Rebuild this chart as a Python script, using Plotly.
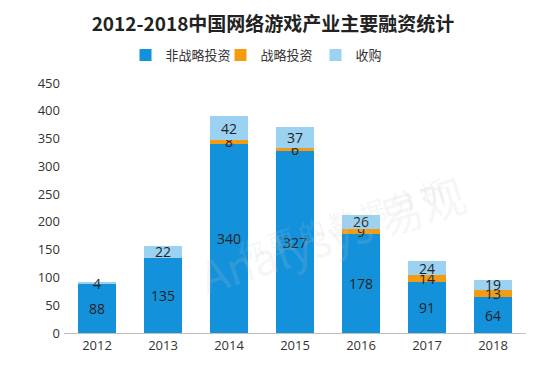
import plotly.graph_objects as go

years = ["2012", "2013", "2014", "2015", "2016", "2017", "2018"]
non_strategic = [88, 135, 340, 327, 178, 91, 64]
strategic = [0, 0, 8, 6, 9, 14, 13]
acquisition = [4, 22, 42, 37, 26, 24, 19]

names = ["非战略投资", "战略投资", "收购"]
colors = ["#1392DB", "#F59B12", "#9BD2F2"]

font_family = "Open Sans, Noto Sans CJK SC, sans-serif"
cjk = "Noto Sans CJK SC, sans-serif"

# page has an 8px body margin; figure sized so it fits the 536x366 window
W, H = 520, 350

fig = go.Figure()
for name, vals, col in zip(names, [non_strategic, strategic, acquisition], colors):
    fig.add_trace(go.Bar(
        x=years, y=vals, name=name,
        marker=dict(color=col, line=dict(width=0)),
        text=[str(v) if v else "" for v in vals],
        textposition="inside",
        insidetextanchor="middle",
        constraintext="none",
        textangle=0,
        textfont=dict(size=14, color="#222222", family=font_family),
    ))

fig.update_layout(
    barmode="stack",
    bargap=0.42,
    width=W, height=H,
    margin=dict(l=56, r=2, t=75, b=25, autoexpand=False),
    paper_bgcolor="white", plot_bgcolor="white",
    uniformtext=dict(minsize=14, mode="show"),
    title=dict(text="<b>2012-2018中国网络游戏产业主要融资统计</b>",
               xref="container", x=265 / W, xanchor="center",
               yref="container", y=1 - 16 / H, yanchor="middle",
               font=dict(size=19, color="#222222", family=cjk)),
    legend=dict(orientation="h", xref="container", x=260 / W, xanchor="center",
                yref="container", y=1 - 47 / H, yanchor="middle",
                font=dict(size=13, color="#333333", family=cjk),
                itemwidth=30, traceorder="normal", entrywidth=50,
                tracegroupgap=0),
    xaxis=dict(showline=True, linecolor="#BFBFBF", linewidth=1, ticks="",
               tickfont=dict(size=13, color="#333333", family=font_family)),
    yaxis=dict(range=[0, 450], dtick=50, showgrid=False, zeroline=False, showline=False,
               ticks="", ticklabelstandoff=3,
               tickfont=dict(size=13, color="#333333", family=font_family)),
    font=dict(family=font_family),
)

fig.add_annotation(text="Analysys 易观", x=0.58, y=0.7, xref="paper", yref="paper",
                   showarrow=False, textangle=-18,
                   font=dict(size=44, color="rgba(200,200,200,0.18)", family=cjk))
fig.add_annotation(text="你 要 的 数 据 分 析", x=0.6, y=0.45, xref="paper", yref="paper",
                   showarrow=False, textangle=-18,
                   font=dict(size=26, color="rgba(200,200,200,0.18)", family=cjk))

fig.write_html("out.html")
